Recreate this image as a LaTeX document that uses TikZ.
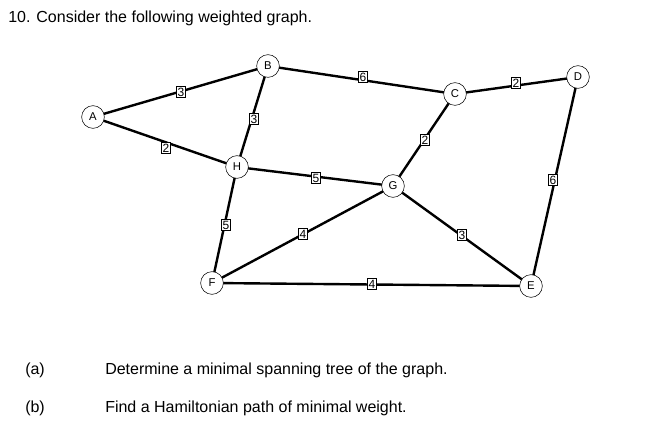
\documentclass[tikz,border=0pt]{standalone}
\usepackage{fontspec}
\setmainfont{Liberation Sans}
\begin{document}
\begin{tikzpicture}[x=0.75pt,y=-0.75pt,
  vert/.style={circle,draw,fill=white,minimum size=17pt,inner sep=0pt,font=\fontsize{8.5}{9}\selectfont},
  edge/.style={line width=1.8pt},
  wt/.style={draw,fill=white,inner sep=0.8pt,font=\fontsize{9}{10}\selectfont,line width=0.6pt},
  txt/.style={anchor=base west,inner sep=0pt,font=\fontsize{12}{14}\selectfont}]
\useasboundingbox (0,0) rectangle (650,442);
\coordinate (pA) at (93,117); \coordinate (pB) at (268,66); \coordinate (pC) at (455,94);
\coordinate (pD) at (578,77); \coordinate (pH) at (237,167); \coordinate (pG) at (393,186);
\coordinate (pF) at (212,283); \coordinate (pE) at (531,286);
\draw[edge] (pA)--(pB) (pA)--(pH) (pB)--(pH) (pB)--(pC) (pC)--(pD) (pC)--(pG)
  (pH)--(pG) (pH)--(pF) (pF)--(pG) (pG)--(pE) (pD)--(pE) (pF)--(pE);
\node[wt] (w1) at (181,92) {3};
\node[wt] (w2) at (166,148) {2};
\node[wt] (w3) at (254,119) {3};
\node[wt] (w4) at (363,77) {6};
\node[wt] (w5) at (516,83) {2};
\node[wt] (w6) at (425,140) {2};
\node[wt] (w7) at (316,178) {5};
\node[wt] (w8) at (226,225) {5};
\node[wt] (w9) at (303,234) {4};
\node[wt] (w10) at (462,235) {3};
\node[wt] (w11) at (553,180) {6};
\node[wt] (w12) at (372,284) {4};
\node[vert] (A) at (pA) {A};
\node[vert] (B) at (pB) {B};
\node[vert] (C) at (pC) {C};
\node[vert] (D) at (pD) {D};
\node[vert] (H) at (pH) {H};
\node[vert] (G) at (pG) {G};
\node[vert] (F) at (pF) {F};
\node[vert] (E) at (pE) {E};
\node[txt] (t0) at (8,23) {10. Consider the following weighted graph.};
\node[txt] (ta) at (25,374) {(a)};
\node[txt] (tad) at (105,374) {Determine a minimal spanning tree of the graph.};
\node[txt] (tb) at (25,412) {(b)};
\node[txt] (tbd) at (105,412) {Find a Hamiltonian path of minimal weight.};
\end{tikzpicture}
\end{document}
